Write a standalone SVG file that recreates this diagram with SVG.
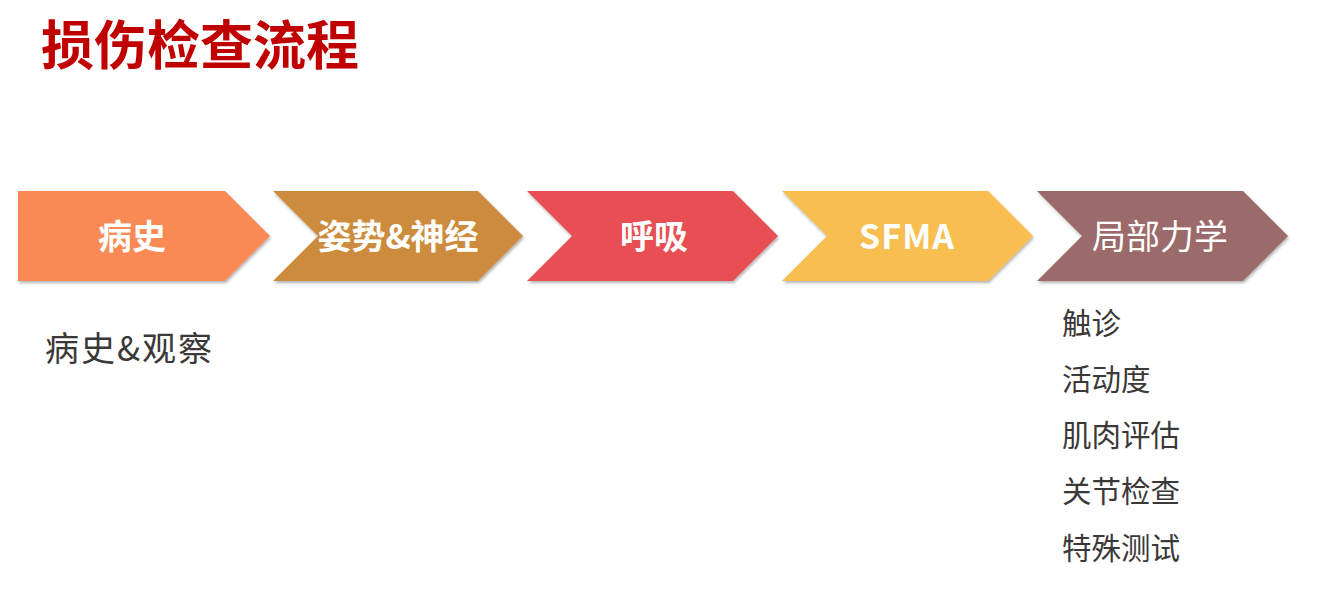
<svg xmlns="http://www.w3.org/2000/svg" width="1317" height="594" viewBox="0 0 1317 594">
<defs>
<filter id="sh" x="-5%" y="-10%" width="110%" height="125%">
<feDropShadow dx="1" dy="2" stdDeviation="1.5" flood-color="#000" flood-opacity="0.3"/>
</filter>
</defs>
<style>
.cjk{font-family:"Noto Sans CJK SC","Noto Sans",sans-serif}
.lbl{font-size:34px;fill:#fff;text-anchor:middle}
.b{font-weight:bold}
.item{font-size:29.5px;fill:#3B3838}
</style>
<rect width="1317" height="594" fill="#fff"/>
<text class="cjk b" x="41" y="65" font-size="53" fill="#C00000">损伤检查流程</text>
<g id="step1"><polygon points="18,191 225,191 270,236 225,281 18,281" fill="#F98A55" filter="url(#sh)"/><text class="cjk lbl b" x="132" y="249">病史</text></g>
<g id="step2"><polygon points="273,191 478,191 523,236 478,281 273,281 318,236" fill="#CD8C3E" filter="url(#sh)"/><text class="cjk lbl b" x="398" y="249">姿势&amp;神经</text></g>
<g id="step3"><polygon points="527,191 733,191 778,236 733,281 527,281 572,236" fill="#E85054" filter="url(#sh)"/><text class="cjk lbl b" x="654" y="249">呼吸</text></g>
<g id="step4"><polygon points="782,191 988,191 1033,236 988,281 782,281 827,236" fill="#F8BE50" filter="url(#sh)"/><text class="cjk lbl b" x="907" y="249" font-size="37" letter-spacing="1">SFMA</text></g>
<g id="step5"><polygon points="1037,191 1243,191 1288,236 1243,281 1037,281 1082,236" fill="#9B6A6A" filter="url(#sh)"/><text class="cjk lbl" x="1160" y="249">局部力学</text></g>
<g id="connectors"></g>
<text class="cjk" x="45" y="361" font-size="34" letter-spacing="2" fill="#3B3838">病史&amp;观察</text>
<g id="list">
<text class="cjk item" x="1062" y="334">触诊</text>
<text class="cjk item" x="1062" y="390">活动度</text>
<text class="cjk item" x="1062" y="446">肌肉评估</text>
<text class="cjk item" x="1062" y="502">关节检查</text>
<text class="cjk item" x="1062" y="559">特殊测试</text>
</g>
</svg>
